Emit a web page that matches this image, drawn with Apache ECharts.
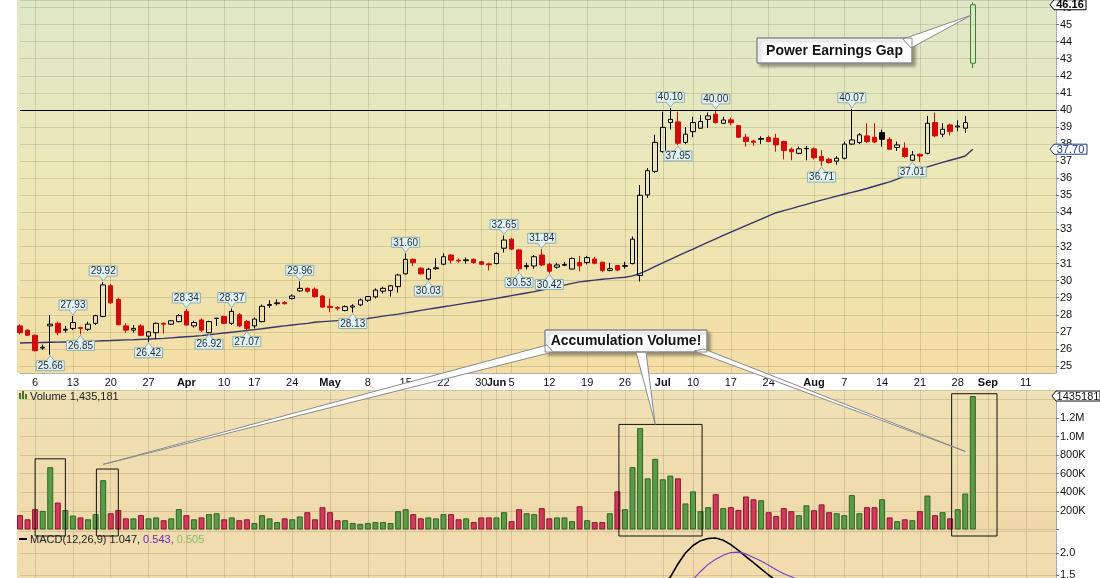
<!DOCTYPE html>
<html><head><meta charset="utf-8">
<script src="https://cdn.jsdelivr.net/npm/echarts@6/dist/echarts.min.js"></script>
<style>html,body{margin:0;padding:0;background:#fff}#c{width:1100px;height:578px}</style>
</head><body><div id="c"></div>
<script>
// ---------- DATA ----------
const dates = ['3/2','3/3','3/6','3/7','3/8','3/9','3/10','3/13','3/14','3/15','3/16','3/17','3/20','3/21','3/22','3/23','3/24','3/27','3/28','3/29','3/30','3/31',
'4/3','4/4','4/5','4/6','4/7','4/10','4/11','4/12','4/13','4/17','4/18','4/19','4/20','4/21','4/24','4/25','4/26','4/27','4/28',
'5/1','5/2','5/3','5/4','5/5','5/8','5/9','5/10','5/11','5/12','5/15','5/16','5/17','5/18','5/19','5/22','5/23','5/24','5/25','5/26','5/30','5/31',
'6/1','6/2','6/5','6/6','6/7','6/8','6/9','6/12','6/13','6/14','6/15','6/16','6/19','6/20','6/21','6/22','6/23','6/26','6/27','6/28','6/29','6/30',
'7/3','7/5','7/6','7/7','7/10','7/11','7/12','7/13','7/14','7/17','7/18','7/19','7/20','7/21','7/24','7/25','7/26','7/27','7/28','7/31',
'8/1','8/2','8/3','8/4','8/7','8/8','8/9','8/10','8/11','8/14','8/15','8/16','8/17','8/18','8/21','8/22','8/23','8/24','8/25','8/28','8/29','8/30',
'8/31','9/1','9/5','9/6','9/7','9/8','9/11','9/12','9/13','9/14','9/15'];

const xTickDates = ['3/6','3/13','3/20','3/27','4/3','4/10','4/17','4/24','5/1','5/8','5/15','5/22','5/30','6/1','6/5','6/12','6/19','6/26','7/3','7/10','7/17','7/24','8/1','8/7','8/14','8/21','8/28','9/1','9/11'];
const xTickTexts = ['6','13','20','27','Apr','10','17','24','May','8','15','22','30','Jun','5','12','19','26','Jul','10','17','24','Aug','7','14','21','28','Sep','11'];

const prevClose0 = 27.5;
const open = [27.35,27.10,26.80,26.05,27.35,27.50,27.10,27.20,27.25,27.15,27.50,27.90,29.70,28.90,27.35,27.10,27.35,26.75,26.95,27.50,27.45,27.60,
28.20,27.35,27.70,26.95,27.78,27.90,27.50,28.00,27.60,27.35,27.60,28.55,28.65,28.72,28.95,29.40,29.55,29.50,29.10,
28.50,28.42,28.25,28.45,28.58,28.85,29.05,29.38,29.42,29.65,30.40,31.25,30.73,30.10,30.70,30.96,31.50,31.20,31.17,31.25,31.10,30.98,
31.00,31.90,32.43,31.80,30.82,30.86,31.50,30.96,30.79,30.90,30.68,31.06,31.06,31.27,31.08,30.60,30.88,30.84,31.00,30.30,35.02,36.40,
37.56,39.26,39.30,38.10,38.73,38.93,39.45,39.75,39.22,39.42,39.08,38.40,38.18,38.33,38.38,38.34,38.15,37.70,37.46,37.72,
37.72,37.27,37.11,37.00,37.17,38.00,38.09,38.48,38.40,38.67,38.28,37.80,37.76,37.05,37.40,37.46,39.26,38.58,39.12,39.00,38.93,42.74];
const high = [27.45,27.15,26.85,26.25,27.98,27.60,27.35,27.93,27.30,27.60,28.00,29.92,29.80,29.00,27.50,27.40,27.45,27.05,27.55,27.55,27.70,28.05,
28.34,27.65,27.80,27.65,27.82,27.95,28.37,28.10,27.70,27.85,28.60,28.85,28.90,28.80,29.20,29.96,29.60,29.60,29.15,
28.95,28.50,28.55,28.62,28.95,29.10,29.55,29.65,29.75,30.40,31.60,31.30,30.78,30.75,31.32,31.60,31.55,31.30,31.35,31.30,31.15,31.05,
31.65,32.65,32.50,31.85,31.05,31.50,31.84,31.05,31.05,31.10,31.35,31.45,31.45,31.40,31.10,31.05,30.92,31.10,32.58,35.60,36.60,38.55,
39.90,40.10,39.90,39.00,39.60,39.70,39.85,40.00,39.60,39.55,39.10,38.60,38.25,38.45,38.50,38.60,38.20,37.80,37.85,37.90,
37.80,37.65,37.20,37.30,38.15,40.07,38.65,39.22,39.22,38.85,38.40,38.15,38.10,37.60,37.45,39.65,39.85,39.22,39.20,39.40,39.65,46.30];
const low = [26.85,26.75,25.85,25.95,25.66,26.80,26.95,27.10,26.85,27.05,27.40,27.85,28.65,27.38,26.95,26.95,26.75,26.42,26.60,26.90,27.40,27.55,
27.35,27.25,27.00,26.92,27.35,27.45,27.40,27.30,27.07,27.20,27.55,28.40,28.55,28.60,28.90,29.35,29.30,29.00,28.40,
28.15,28.25,28.20,28.13,28.50,28.75,28.95,29.25,29.07,29.30,30.35,30.85,30.35,30.03,30.62,30.90,31.00,31.05,31.00,30.98,30.90,30.60,
30.95,31.65,31.80,30.53,30.65,30.70,30.85,30.42,30.70,30.85,30.65,30.55,30.95,30.95,30.50,30.55,30.55,30.70,30.95,29.95,34.85,36.30,
37.50,38.85,37.95,38.00,38.40,38.90,38.95,39.20,39.20,39.10,38.35,37.85,37.90,38.00,38.10,37.55,37.10,37.05,37.40,37.05,
37.10,36.71,36.85,36.80,37.10,37.95,38.00,38.05,38.05,37.85,37.65,37.60,37.20,37.01,36.95,37.40,38.40,38.40,38.50,38.75,38.65,42.45];
const close = [26.95,26.80,25.90,26.10,27.45,26.95,27.15,27.55,27.20,27.45,27.95,29.75,28.70,27.42,27.10,27.20,26.80,27.00,27.50,27.45,27.65,27.95,
27.40,27.55,27.10,27.60,27.80,27.50,28.20,27.35,27.20,27.75,28.50,28.60,28.70,28.65,29.10,29.55,29.38,29.07,28.45,
28.42,28.38,28.48,28.52,28.87,29.07,29.45,29.55,29.70,30.33,31.25,31.05,30.40,30.67,30.75,31.40,31.20,31.15,31.22,31.06,30.96,30.93,
31.60,32.38,31.85,30.70,30.88,31.40,30.92,30.55,30.92,30.95,31.30,30.87,31.35,31.02,30.60,30.70,30.62,30.88,32.43,35.00,36.44,38.10,
38.98,39.45,38.05,38.58,39.26,39.32,39.65,39.26,39.41,39.25,38.40,38.15,38.10,38.28,38.15,37.95,37.62,37.55,37.72,37.75,
37.20,37.02,36.92,37.17,38.00,38.24,38.54,38.15,38.12,38.28,37.70,37.95,37.27,37.36,37.30,39.22,38.48,38.87,38.73,39.06,39.26,46.16];

const volume = [154000,110000,220000,200000,670000,290000,210000,150000,130000,110000,165000,530000,175000,210000,120000,120000,154000,120000,130000,100000,120000,220000,
154000,110000,130000,165000,175000,110000,130000,100000,110000,70000,154000,120000,80000,120000,110000,140000,186000,110000,240000,
186000,100000,100000,70000,60000,70000,80000,80000,70000,197000,218000,165000,120000,130000,120000,165000,165000,110000,120000,80000,130000,130000,
130000,186000,90000,218000,175000,165000,230000,120000,130000,130000,90000,250000,100000,80000,80000,175000,410000,218000,670000,1090000,550000,760000,
540000,580000,550000,280000,410000,197000,240000,380000,230000,240000,210000,355000,325000,315000,186000,145000,230000,197000,154000,260000,
207000,270000,186000,175000,154000,370000,175000,240000,240000,325000,130000,90000,110000,100000,197000,365000,154000,186000,120000,218000,387000,1435181];

const ma50 = [26.35,26.36,26.37,26.38,26.39,26.40,26.41,26.42,26.43,26.45,26.46,26.48,26.49,26.51,26.53,26.54,26.56,26.58,26.60,26.62,26.65,26.68,
26.71,26.74,26.78,26.83,26.88,26.93,26.98,27.03,27.08,27.13,27.18,27.24,27.30,27.35,27.40,27.45,27.50,27.56,27.60,
27.63,27.66,27.69,27.72,27.75,27.78,27.85,27.92,27.98,28.04,28.11,28.18,28.26,28.33,28.40,28.47,28.54,28.61,28.68,28.75,28.82,28.89,
28.96,29.04,29.12,29.20,29.28,29.36,29.45,29.54,29.64,29.74,29.84,29.93,29.98,30.03,30.08,30.12,30.16,30.20,30.28,30.42,30.62,30.83,
31.04,31.25,31.45,31.65,31.85,32.05,32.25,32.45,32.65,32.84,33.03,33.22,33.41,33.60,33.80,33.98,34.10,34.22,34.35,34.47,
34.60,34.72,34.83,34.95,35.06,35.17,35.28,35.40,35.53,35.66,35.79,35.95,36.12,36.30,36.48,36.66,36.80,36.93,37.05,37.17,37.30,37.70];

const macdLine = [0.15,0.12,0.05,0.00,0.05,0.05,0.06,0.08,0.08,0.10,0.14,0.30,0.35,0.30,0.25,0.22,0.17,0.15,0.16,0.16,0.17,0.19,
0.18,0.18,0.15,0.16,0.17,0.16,0.20,0.17,0.14,0.16,0.22,0.27,0.32,0.35,0.40,0.45,0.47,0.46,0.42,
0.38,0.34,0.32,0.30,0.30,0.32,0.36,0.40,0.43,0.50,0.60,0.65,0.64,0.64,0.64,0.67,0.68,0.68,0.68,0.66,0.63,0.60,
0.62,0.68,0.67,0.57,0.50,0.48,0.42,0.35,0.33,0.31,0.32,0.30,0.30,0.27,0.22,0.18,0.15,0.15,0.30,0.65,0.95,1.15,
1.30,1.45,1.75,2.00,2.17,2.28,2.33,2.34,2.29,2.19,2.06,1.92,1.78,1.64,1.50,1.37,1.25,1.14,1.04,0.96,
0.88,0.80,0.72,0.66,0.62,0.60,0.60,0.58,0.55,0.52,0.48,0.45,0.40,0.35,0.32,0.40,0.44,0.46,0.47,0.50,0.53,1.047];
const signalLine = [0.20,0.19,0.17,0.14,0.12,0.11,0.10,0.10,0.10,0.10,0.11,0.14,0.18,0.20,0.21,0.21,0.20,0.19,0.18,0.18,0.18,0.18,
0.18,0.18,0.17,0.17,0.17,0.17,0.17,0.17,0.17,0.17,0.18,0.20,0.22,0.25,0.28,0.32,0.35,0.37,0.38,
0.38,0.37,0.36,0.35,0.34,0.33,0.34,0.35,0.36,0.39,0.43,0.48,0.51,0.54,0.56,0.58,0.60,0.62,0.63,0.64,0.64,0.63,
0.63,0.64,0.64,0.63,0.60,0.58,0.55,0.51,0.47,0.44,0.42,0.40,0.38,0.36,0.33,0.30,0.27,0.25,0.30,0.37,0.48,0.62,
0.75,0.90,1.05,1.22,1.40,1.58,1.74,1.86,1.95,2.01,2.02,1.98,1.90,1.82,1.72,1.62,1.53,1.46,1.38,1.30,
1.22,1.14,1.06,0.99,0.93,0.87,0.82,0.78,0.74,0.70,0.66,0.62,0.58,0.54,0.50,0.48,0.47,0.47,0.47,0.47,0.48,0.543];

const highMarks = [[7,27.93],[11,29.92],[22,28.34],[28,28.37],[37,29.96],[51,31.60],[64,32.65],[69,31.84],[86,40.10],[92,40.00],[110,40.07]];
const lowMarks = [[4,25.66],[8,26.85],[17,26.42],[25,26.92],[30,27.07],[44,28.13],[54,30.03],[66,30.53],[70,30.42],[87,37.95],[106,36.71],[118,37.01]];

// ---------- BUILD ----------
const FONT = '"Liberation Sans", Arial, sans-serif';
const RED = '#d20a0a';
const GRID = 'rgba(110,110,70,0.22)';
const tickMap = {}; xTickDates.forEach((d,k)=>{ tickMap[d] = xTickTexts[k]; });
const isTick = (i) => tickMap[dates[i]] !== undefined;
const lastIdx = close.length - 1;

const candleData = open.map((o,i)=>{
  const c = close[i];
  const pc = i === 0 ? prevClose0 : close[i-1];
  let col = c < pc ? RED : '#000';
  if (i === lastIdx) col = '#2f8a2f';
  const fill = c < o ? col : 'rgba(0,0,0,0)';
  return {value:[o,c,low[i],high[i]], itemStyle:{color:fill,color0:fill,borderColor:col,borderColor0:col,borderWidth:1}};
});
const volData = volume.map((v,i)=>{
  const pc = i === 0 ? prevClose0 : close[i-1];
  const down = close[i] < pc;
  return {value:v, itemStyle:{color: down ? '#cf3a5b' : '#5c9a47', borderColor: down ? '#8a1832' : '#2c6624', borderWidth:1}};
});

function xAxisFor(gi, showLabels){
  return {type:'category', gridIndex:gi, data:dates, boundaryGap:false,
    axisLine:{show: gi===0, lineStyle:{color:'#aaa', type:'dotted'}},
    axisTick:{show:false},
    axisLabel: showLabels ? {interval:(i)=>isTick(i), margin:4, color:'#111', fontSize:11, fontFamily:FONT,
      formatter:(v)=>{ const t = tickMap[v]; if (t===undefined) return ''; return /[A-Z]/.test(t) ? '{b|'+t+'}' : t; },
      rich:{b:{fontWeight:'bold', fontSize:11, fontFamily:FONT, color:'#111'}}} : {show:false},
    splitLine:{show:true, interval:(i)=>isTick(i), lineStyle:{color:GRID, width:1}}};
}
const yCommon = {position:'right', axisLine:{show:true, lineStyle:{color:'#999', type:'dotted'}},
  axisTick:{show:true, length:3, lineStyle:{color:'#777'}}, splitLine:{show:true, lineStyle:{color:GRID, width:1}}};

const option = {
  animation:false,
  backgroundColor:'#ffffff',
  grid:[
    {left:20,right:44,top:0,height:373,outerBoundsMode:'none'},
    {left:20,right:44,top:390,height:139.5,outerBoundsMode:'none'},
    {left:20,right:44,top:531,height:110,outerBoundsMode:'none'}
  ],
  xAxis:[xAxisFor(0,true), xAxisFor(1,false), xAxisFor(2,false)],
  yAxis:[
    Object.assign({}, yCommon, {type:'value', gridIndex:0, min:24.59, max:46.44, splitNumber:22, scale:true,
      axisLabel:{margin:4, fontSize:11, color:'#111', fontFamily:FONT, showMinLabel:false, showMaxLabel:false,
        formatter:(v)=> (Math.abs(v-Math.round(v))<1e-6 && v>=25 && v<=46) ? String(Math.round(v)) : ''}}),
    Object.assign({}, yCommon, {type:'value', gridIndex:1, min:0, max:1500000, interval:200000,
      axisLabel:{margin:4, fontSize:11, color:'#111', fontFamily:FONT, showMaxLabel:false,
        formatter:(v)=> (v<=0 || v>1300000) ? '' : (v>=1000000 ? (v/1000000).toFixed(1)+'M' : (v/1000)+'K')}}),
    Object.assign({}, yCommon, {type:'value', gridIndex:2, min:0, max:2.5, interval:0.5,
      axisLabel:{margin:4, fontSize:11, color:'#111', fontFamily:FONT, showMaxLabel:false,
        formatter:(v)=> (v<1.4 || v>2.4) ? '' : v.toFixed(1)}})
  ],
  series:[
    {type:'candlestick', xAxisIndex:0, yAxisIndex:0, data:candleData, barWidth:5, clip:false, z:3,
      markLine:{silent:true, symbol:'none', label:{show:false}, lineStyle:{color:'#000', width:1, type:'solid'}, data:[{yAxis:40}]}},
    {type:'line', xAxisIndex:0, yAxisIndex:0, data:ma50, showSymbol:false, symbol:'none', lineStyle:{color:'#35356b', width:1.4}, z:2},
    {type:'bar', xAxisIndex:1, yAxisIndex:1, data:volData, barWidth:6, clip:false},
    {type:'line', xAxisIndex:2, yAxisIndex:2, data:macdLine, showSymbol:false, symbol:'none', lineStyle:{color:'#000', width:1.6}},
    {type:'line', xAxisIndex:2, yAxisIndex:2, data:signalLine, showSymbol:false, symbol:'none', lineStyle:{color:'#7a3cc8', width:1.1}}
  ]
};

const chart = echarts.init(document.getElementById('c'), null, {renderer:'canvas'});
chart.setOption(option);

// ---------- ANNOTATIONS ----------
const P = (gi, idx, v) => chart.convertToPixel({xAxisIndex:gi, yAxisIndex:gi}, [idx, v]);
const x0 = P(0,0,30)[0], stepX = P(0,1,30)[0] - x0;
const X = (f) => x0 + f*stepX;
const Y = (gi, v) => P(gi, 0, v)[1];
const g = [];
// panel backgrounds
g.push({type:'rect', shape:{x:17,y:0,width:1039,height:373}, z:-100, silent:true,
  style:{fill:new echarts.graphic.LinearGradient(0,0,0,1,[{offset:0,color:'#dfe7c8'},{offset:0.45,color:'#ece8b9'},{offset:1,color:'#f4dea5'}])}});
g.push({type:'rect', shape:{x:17,y:390,width:1039,height:141}, z:-100, silent:true,
  style:{fill:new echarts.graphic.LinearGradient(0,0,0,1,[{offset:0,color:'#f1e1b6'},{offset:1,color:'#efd9a9'}])}});
g.push({type:'rect', shape:{x:17,y:531,width:1039,height:47}, z:-100, silent:true, style:{fill:'#f0dcae'}});

// high / low price tags
function tag(i, v, isHigh){
  const x = X(i), y = Y(0, v), w = 28, h = 10;
  const by = isHigh ? y - 6 - h : y + 6;
  const baseY = isHigh ? by + h : by;
  const tipY = isHigh ? y - 1 : y + 1;
  const fillC = '#e3f1f1', strokeC = '#8db0b0';
  g.push({type:'rect', shape:{x:x-w/2, y:by, width:w, height:h}, style:{fill:fillC, stroke:strokeC, lineWidth:1}, z:50, silent:true});
  g.push({type:'polygon', shape:{points:[[x-4, baseY + (isHigh?-1:1)],[x, tipY],[x+4, baseY + (isHigh?-1:1)]]}, style:{fill:fillC}, z:51, silent:true});
  g.push({type:'polyline', shape:{points:[[x-4, baseY],[x, tipY],[x+4, baseY]]}, style:{stroke:strokeC, fill:null, lineWidth:1}, z:52, silent:true});
  g.push({type:'text', x:x, y:by+h/2+0.5, style:{text:v.toFixed(2), fill:'#1b2b3b', font:'10px '+FONT, align:'center', verticalAlign:'middle'}, z:53, silent:true});
}
highMarks.forEach(m=>tag(m[0], m[1], true));
lowMarks.forEach(m=>tag(m[0], m[1], false));

// right axis value boxes
function valBox(y, txt, color, bold, x, w){
  g.push({type:'polygon', shape:{points:[[x,y-5],[x+w,y-5],[x+w,y+5],[x,y+5],[x-4,y]]}, style:{fill:'#fff', stroke:color, lineWidth:1}, z:70, silent:true});
  g.push({type:'text', x:x+w/2, y:y+0.5, style:{text:txt, fill:color, font:(bold?'bold ':'')+'11px '+FONT, align:'center', verticalAlign:'middle'}, z:71, silent:true});
}
valBox(Y(0, close[lastIdx]), close[lastIdx].toFixed(2), '#000', true, 1054, 32);
valBox(Y(0, ma50[ma50.length-1]), ma50[ma50.length-1].toFixed(2), '#1d3a8a', false, 1054, 33);
valBox(Y(1, volume[volume.length-1]), String(volume[volume.length-1]), '#111', false, 1056, 44);

// legends
g.push({type:'rect', shape:{x:19,y:393,width:2,height:6}, style:{fill:'#3d7a2e'}, z:70, silent:true});
g.push({type:'rect', shape:{x:22,y:391,width:2,height:8}, style:{fill:'#3d7a2e'}, z:70, silent:true});
g.push({type:'rect', shape:{x:25,y:394,width:2,height:5}, style:{fill:'#3d7a2e'}, z:70, silent:true});
g.push({type:'text', x:30, y:396.5, style:{text:'Volume 1,435,181', fill:'#222', font:'11px '+FONT, verticalAlign:'middle'}, z:70, silent:true});
g.push({type:'rect', shape:{x:19,y:538,width:8,height:2}, style:{fill:'#000'}, z:70, silent:true});
g.push({type:'text', x:30, y:539.5, z:70, silent:true, style:{text:'{k|MACD(12,26,9) 1.047,} {p|0.543,} {q|0.505}', verticalAlign:'middle', font:'11px '+FONT,
  rich:{k:{fill:'#222', font:'11px '+FONT}, p:{fill:'#6a2ab8', font:'11px '+FONT}, q:{fill:'#86c06a', font:'11px '+FONT}}}});

// accumulation boxes on volume panel
function volBox(f0, f1, vTop){
  const xa = X(f0), xb = X(f1), ya = Y(1, vTop), yb = Y(1, -70000);
  g.push({type:'rect', shape:{x:xa, y:ya, width:xb-xa, height:yb-ya}, style:{fill:null, stroke:'#111', lineWidth:1}, z:40, silent:true});
}
volBox(2.0, 6.0, 760000);
volBox(10.1, 13.0, 650000);
volBox(79.2, 90.2, 1130000);
volBox(123.2, 129.2, 1460000);

// callouts
function wedge(pts){ g.push({type:'polygon', shape:{points:pts}, style:{fill:'#fff', stroke:'#8a8a8a', lineWidth:1}, z:61, silent:true}); }
function callout(x, y, w, h, txt){
  g.push({type:'rect', shape:{x:x, y:y, width:w, height:h}, style:{fill:'#fff', stroke:'#8a8a8a', lineWidth:1, shadowBlur:3, shadowOffsetX:3, shadowOffsetY:3, shadowColor:'rgba(0,0,0,0.35)'}, z:60, silent:true});
  g.push({type:'text', x:x+w/2, y:y+h/2+0.5, style:{text:txt, fill:'#151515', font:'bold 14px '+FONT, align:'center', verticalAlign:'middle'}, z:63, silent:true});
}
callout(757, 38, 155, 25, 'Power Earnings Gap');
wedge([[903,39],[X(125.8), Y(0,45.55)],[911,48]]);
callout(545, 330, 162, 22, 'Accumulation Volume!');
wedge([[547,345],[X(11.0), Y(1,700000)],[553,352]]);
wedge([[636,352],[X(84.0), Y(1,1130000)],[646,352]]);
wedge([[694,351],[X(125.0), Y(1,840000)],[704,349]]);
g.push({type:'rect', shape:{x:757, y:38, width:155, height:25}, style:{fill:null, stroke:'#8a8a8a', lineWidth:1}, z:62, silent:true});
g.push({type:'rect', shape:{x:545, y:330, width:162, height:22}, style:{fill:null, stroke:'#8a8a8a', lineWidth:1}, z:62, silent:true});

chart.setOption({graphic:{elements:g}});
</script>
</body></html>
